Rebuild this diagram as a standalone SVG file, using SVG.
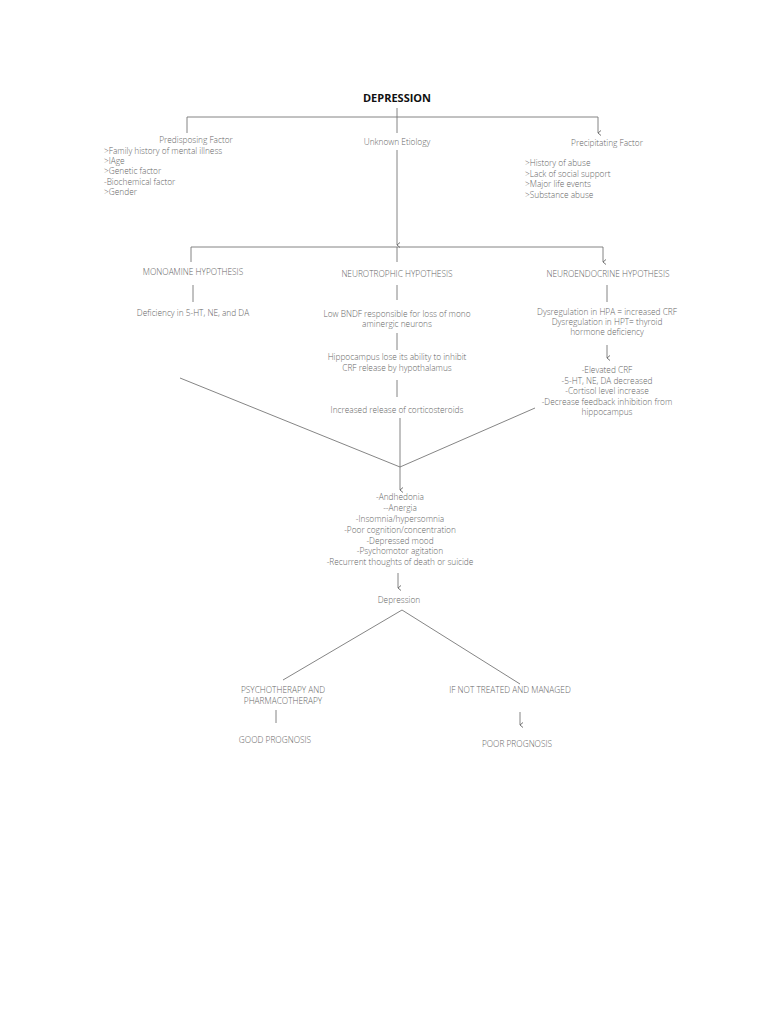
<svg xmlns="http://www.w3.org/2000/svg" width="768" height="1024" viewBox="0 0 768 1024">
<style>
text{font-family:"Open Sans","Liberation Sans",sans-serif;font-size:8.3px;fill:#666;font-weight:300}
.c{text-anchor:middle}
.t{font-size:11px;font-weight:700;fill:#111}
.l{stroke:#777;stroke-width:0.9;fill:none}
</style>
<defs><marker id="a" viewBox="0 0 6 6" refX="3" refY="5" markerWidth="6" markerHeight="6" orient="auto-start-reverse" markerUnits="userSpaceOnUse"><path d="M0.5,2 L3,5 L5.5,2" fill="none" stroke="#666" stroke-width="0.9"/></marker></defs>
<rect width="768" height="1024" fill="#fff"/>
<g id="connectors" class="l">
<path d="M397,108V117M187,117H598"/>
<path d="M187,117V133M397,117V133M598,117V133" marker-end="url(#a)"/>
<path d="M397,150V245" marker-end="url(#a)"/>
<path d="M191,247H603"/>
<path d="M191,247V262M397,247V262M603,247V262" marker-end="url(#a)"/>
<path d="M193,285V302M397,285V300M397,333V350M397,380V397M607,285V302M607,345V358" marker-end="url(#a)"/>
<path d="M180,378L400,467M535,408L400,467M400,418V482"/>
<path d="M400,482V490" marker-end="url(#a)"/>
<path d="M398,573V588" marker-end="url(#a)"/>
<path d="M402,610L283,680M402,610L520,684"/>
<path d="M276,710V723M520,712V725" marker-end="url(#a)"/>
</g>
<g id="title"><text class="c t" x="397" y="102">DEPRESSION</text></g>
<g id="predisposing"><text class="c" x="196" y="143">Predisposing Factor</text>
<text x="104" y="154">&gt;Family history of mental illness</text><text x="104" y="164">&gt;IAge</text><text x="104" y="174">&gt;Genetic factor</text><text x="104" y="185">-Biochemical factor</text><text x="104" y="195">&gt;Gender</text></g>
<g id="unknown"><text class="c" x="397" y="145">Unknown Etiology</text></g>
<g id="precipitating"><text class="c" x="607" y="146">Precipitating Factor</text>
<text x="525" y="166">&gt;History of abuse</text><text x="525" y="177">&gt;Lack of social support</text><text x="525" y="187">&gt;Major life events</text><text x="525" y="198">&gt;Substance abuse</text></g>
<g id="monoamine"><text class="c" x="193" y="275">MONOAMINE HYPOTHESIS</text><text class="c" x="193" y="316">Deficiency in 5-HT, NE, and DA</text></g>
<g id="neurotrophic"><text class="c" x="397" y="277">NEUROTROPHIC HYPOTHESIS</text>
<text class="c" x="397" y="317">Low BNDF responsible for loss of mono</text><text class="c" x="397" y="327">aminergic neurons</text>
<text class="c" x="397" y="360">Hippocampus lose its ability to inhibit</text><text class="c" x="397" y="371">CRF release by hypothalamus</text>
<text class="c" x="397" y="413">Increased release of corticosteroids</text></g>
<g id="neuroendocrine"><text class="c" x="608" y="277">NEUROENDOCRINE HYPOTHESIS</text>
<text class="c" x="607" y="315">Dysregulation in HPA = increased CRF</text><text class="c" x="607" y="325">Dysregulation in HPT= thyroid</text><text class="c" x="607" y="335">hormone deficiency</text>
<text class="c" x="607" y="373">-Elevated CRF</text><text class="c" x="607" y="384">-5-HT, NE, DA decreased</text><text class="c" x="607" y="394">-Cortisol level increase</text><text class="c" x="607" y="405">-Decrease feedback inhibition from</text><text class="c" x="607" y="415">hippocampus</text></g>
<g id="symptoms"><text class="c" x="400" y="500">-Andhedonia</text><text class="c" x="400" y="511">--Anergia</text><text class="c" x="400" y="522">-Insomnia/hypersomnia</text><text class="c" x="400" y="533">-Poor cognition/concentration</text><text class="c" x="400" y="544">-Depressed mood</text><text class="c" x="400" y="554">-Psychomotor agitation</text><text class="c" x="400" y="565">-Recurrent thoughts of death or suicide</text></g>
<g id="depression2"><text class="c" x="399" y="603">Depression</text></g>
<g id="treated"><text class="c" x="283" y="693">PSYCHOTHERAPY AND</text><text class="c" x="283" y="704">PHARMACOTHERAPY</text><text class="c" x="275" y="743">GOOD PROGNOSIS</text></g>
<g id="untreated"><text class="c" x="510" y="693">IF NOT TREATED AND MANAGED</text><text class="c" x="517" y="747">POOR PROGNOSIS</text></g>
</svg>
